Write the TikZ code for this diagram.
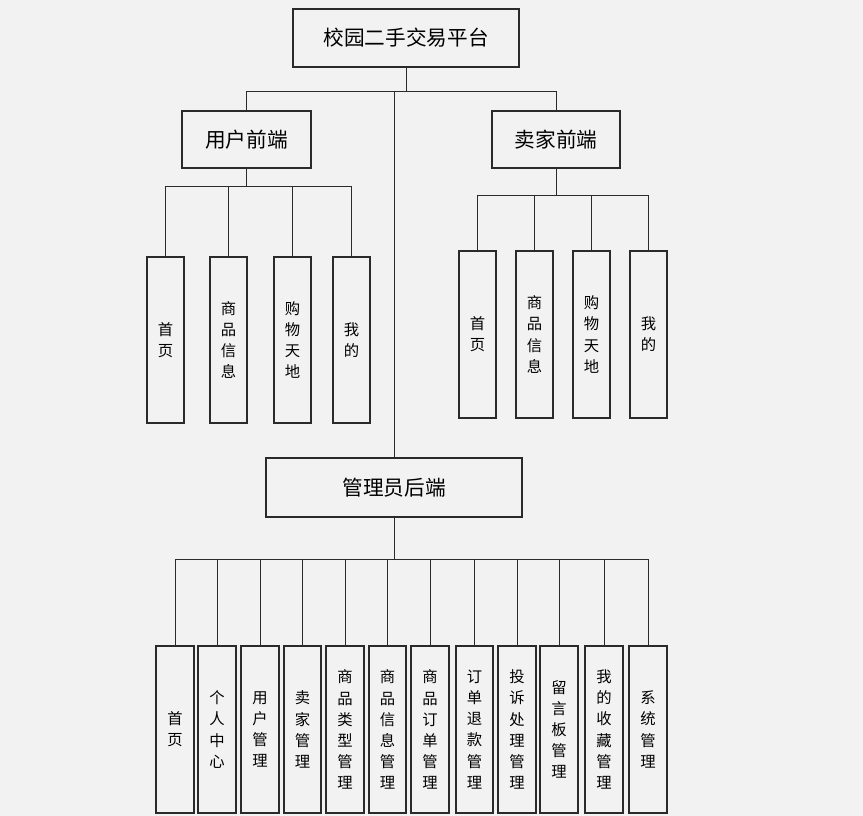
\documentclass[tikz,border=0pt]{standalone}
\usepackage{fontspec}
\newfontfamily\cjk{Noto Sans CJK SC}
\definecolor{bg}{HTML}{F2F2F2}
\definecolor{ln}{HTML}{2A2A2A}
\newcommand\bx[7][big]{\node[#1, minimum width={(#5-#3)*0.75pt}, minimum height={(#6-#4)*0.75pt}] (#2) at ({(#3+#5)/2},{(#4+#6)/2}) {#7};}
\begin{document}
\begin{tikzpicture}[x=0.75pt,y=-0.75pt,
  big/.style={draw=ln, fill=bg, line width=0.8pt, inner sep=0pt, font=\cjk\fontsize{15.5}{18}\selectfont},
  small/.style={draw=ln, fill=bg, line width=0.8pt, inner sep=0pt, align=center, font=\cjk\fontsize{11.5}{15.8}\selectfont},
  conn/.style={draw=ln, line width=0.75pt}]
\fill[bg] (0,0) rectangle (863,816);
\bx{top}{293}{9}{519}{67}{校园二手交易平台}
\bx{user}{182}{111}{311}{168}{用户前端}
\bx{sell}{492}{111}{620}{168}{卖家前端}
\bx{adm}{266}{458}{522}{517}{管理员后端}
\bx[small]{u1}{147}{257}{184}{423}{首\\页}
\bx[small]{u2}{210}{257}{247}{423}{商\\品\\信\\息}
\bx[small]{u3}{274}{257}{311}{423}{购\\物\\天\\地}
\bx[small]{u4}{333}{257}{370}{423}{我\\的}
\bx[small]{s1}{459}{251}{496}{418}{首\\页}
\bx[small]{s2}{516}{251}{553}{418}{商\\品\\信\\息}
\bx[small]{s3}{573}{251}{610}{418}{购\\物\\天\\地}
\bx[small]{s4}{630}{251}{667}{418}{我\\的}
\bx[small]{a1}{156}{646}{194}{813}{首\\页}
\bx[small]{a2}{198}{646}{236}{813}{个\\人\\中\\心}
\bx[small]{a3}{241}{646}{279}{813}{用\\户\\管\\理}
\bx[small]{a4}{284}{646}{321}{813}{卖\\家\\管\\理}
\bx[small]{a5}{326}{646}{364}{813}{商\\品\\类\\型\\管\\理}
\bx[small]{a6}{369}{646}{406}{813}{商\\品\\信\\息\\管\\理}
\bx[small]{a7}{411}{646}{449}{813}{商\\品\\订\\单\\管\\理}
\bx[small]{a8}{456}{646}{493}{813}{订\\单\\退\\款\\管\\理}
\bx[small]{a9}{498}{646}{536}{813}{投\\诉\\处\\理\\管\\理}
\bx[small]{a10}{540}{646}{578}{813}{留\\言\\板\\管\\理}
\bx[small]{a11}{585}{646}{623}{813}{我\\的\\收\\藏\\管\\理}
\bx[small]{a12}{629}{646}{667}{813}{系\\统\\管\\理}
\foreach \c in {user,sell} \draw[conn] (top.south) -- (top.south|-0,92) -| (\c.north);
\draw[conn] (adm.north) -- (adm.north|-0,92);
\foreach \c in {u1,u2,u3,u4} \draw[conn] (user.south) -- (user.south|-0,187) -| (\c.north);
\foreach \c in {s1,s2,s3,s4} \draw[conn] (sell.south) -- (sell.south|-0,196) -| (\c.north);
\foreach \c in {a1,a2,a3,a4,a5,a6,a7,a8,a9,a10,a11,a12} \draw[conn] (adm.south) -- (adm.south|-0,559) -| (\c.north);
\end{tikzpicture}
\end{document}
